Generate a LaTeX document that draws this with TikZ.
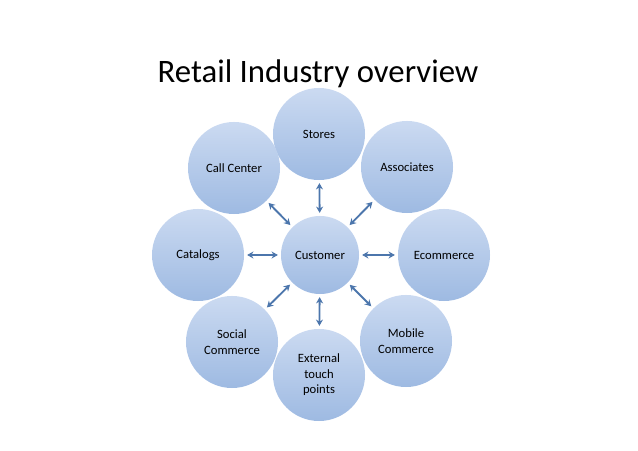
\documentclass[tikz,border=0pt]{standalone}
\usepackage{fontspec}
\setmainfont{Carlito}
\usepackage{xcolor}
\usepackage{tikz}
\usetikzlibrary{shapes,arrows,arrows.meta,positioning}
\definecolor{circtop}{RGB}{203,218,241}
\definecolor{circbot}{RGB}{158,186,226}
\definecolor{arrowblue}{RGB}{76,118,172}
\tikzset{
  channel/.style={
    circle,
    minimum size=2.3cm,
    inner sep=0pt,
    top color=circtop,
    bottom color=circbot,
    draw=none,
    align=center,
    font=\fontsize{9}{11}\selectfont
  },
  arrow/.style={
    {Stealth[length=4.5pt,width=5pt]}-{Stealth[length=4.5pt,width=5pt]},
    draw=arrowblue,
    line width=1.3pt,
    shorten <=2pt,
    shorten >=2pt
  }
}

\begin{document}
\begin{tikzpicture}[
  x=0.025cm, y=-0.025cm,
  hub/.style={channel, minimum size=1.95cm},
  title/.style={font=\fontsize{23.3}{28}\selectfont}
]
\useasboundingbox (0,0) rectangle (638,451);

% Title
\node[title] (head) at (318,74) {Retail Industry overview};

% Centre
\node[hub] (customer) at (320,255) {Customer};

% Outer ring
\node[channel] (stores) at (319,134) {Stores};
\node[channel] (assoc) at (407,167) {Associates};
\node[channel] (ecom) at (444,255) {Ecommerce};
\node[channel] (mobile) at (406,341) {Mobile\\Commerce};
\node[channel] (external) at (319,375) {External\\touch\\points};
\node[channel] (social) at (232,342) {Social\\Commerce};
\node[channel] (catalogs) at (198,255) {Catalogs};
\node[channel] (callc) at (234,168) {Call Center};

% Connections - customer to channels
\draw[arrow] (customer) -- (stores);
\draw[arrow] (customer) -- (assoc);
\draw[arrow] (customer) -- (ecom);
\draw[arrow] (customer) -- (mobile);
\draw[arrow] (customer) -- (external);
\draw[arrow] (customer) -- (social);
\draw[arrow] (customer) -- (catalogs);
\draw[arrow] (customer) -- (callc);

\end{tikzpicture}
\end{document}
